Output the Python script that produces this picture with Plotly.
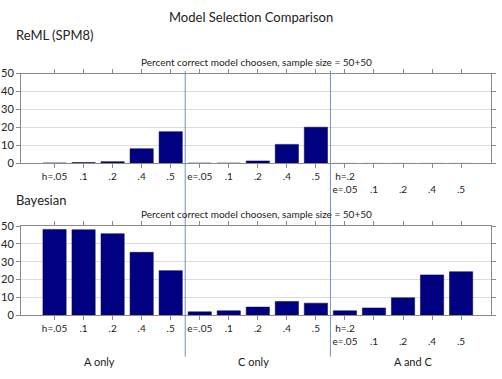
import plotly.graph_objects as go

W, H = 502, 379

tick_labels = ["h=.05", ".1", ".2", ".4", ".5",
               "e=.05", ".1", ".2", ".4", ".5",
               "h=.2<br>e=.05", "<br>.1", "<br>.2", "<br>.4", "<br>.5"]
positions = list(range(15))
reml_values = [0.3, 0.5, 1.0, 8.2, 17.7,
               0.2, 0.2, 1.4, 10.6, 20.2,
               0, 0, 0, 0, 0]
bayes_values = [48.2, 48.0, 45.8, 35.3, 25.0,
                1.8, 2.4, 4.5, 7.6, 6.7,
                2.4, 4.0, 9.7, 22.6, 24.4]
group_names = ["A only", "C only", "A and C"]
group_centres = [1.55, 6.85, 12.35]
separators = [4.5, 9.5]

FONT = "Lato"
BAR = "#000080"
AX = "#8a8a8a"

def py(px):
    return 1 - px / H

fig = go.Figure()
fig.add_trace(go.Bar(x=positions, y=reml_values, marker=dict(color=BAR, line=dict(color="#000050", width=0.5)),
                     width=0.8, xaxis="x", yaxis="y", showlegend=False))
fig.add_trace(go.Bar(x=positions, y=bayes_values, marker=dict(color=BAR, line=dict(color="#000050", width=0.5)),
                     width=0.8, xaxis="x2", yaxis="y2", showlegend=False))

xdom = [21 / W, 491 / W]
xr = [-1.155, 15.03]
common_x = dict(range=xr, domain=xdom, tickmode="array", tickvals=positions, ticktext=tick_labels,
                showline=True, linecolor=AX, linewidth=1, mirror="ticks", ticks="outside",
                ticklen=4, tickcolor=AX, showgrid=False, zeroline=False,
                tickfont=dict(family=FONT, size=10, color="#222"))
common_y = dict(range=[0, 50], dtick=10, showline=True, linecolor=AX, linewidth=1, mirror="ticks",
                ticks="outside", ticklen=4, tickcolor=AX, showgrid=True, gridcolor="#dcdcdc",
                gridwidth=1, zeroline=False, tickfont=dict(family=FONT, size=11, color="#222"))

fig.update_layout(
    width=W, height=H, margin=dict(l=0, r=0, t=0, b=0),
    paper_bgcolor="white", plot_bgcolor="white",
    xaxis=dict(anchor="y", **common_x),
    yaxis=dict(anchor="x", domain=[py(162), py(69)], **common_y),
    xaxis2=dict(anchor="y2", **common_x),
    yaxis2=dict(anchor="x2", domain=[py(319), py(227)], **common_y),
    bargap=0.2,
    font=dict(family=FONT, color="#222"),
)

for s in separators:
    fig.add_shape(type="line", xref="x", yref="paper", x0=s, x1=s, y0=py(362), y1=py(66),
                  line=dict(color="#6f8fc4", width=1))

ann = []
ann.append(dict(text="Model Selection Comparison", x=0.5, y=py(10), xref="paper", yref="paper",
                showarrow=False, font=dict(size=13), xanchor="center", yanchor="middle"))
ann.append(dict(text="ReML (SPM8)", x=14 / W, y=py(29), xref="paper", yref="paper",
                showarrow=False, font=dict(size=13), xanchor="left", yanchor="middle"))
ann.append(dict(text="Bayesian", x=14 / W, y=py(200), xref="paper", yref="paper",
                showarrow=False, font=dict(size=13), xanchor="left", yanchor="middle"))
sub = "Percent correct model choosen, sample size = 50+50"
for yy in (57, 214):
    ann.append(dict(text=sub, x=256 / W, y=py(yy), xref="paper", yref="paper",
                    showarrow=False, font=dict(size=10), xanchor="center", yanchor="middle"))
for name, c in zip(group_names, group_centres):
    ann.append(dict(text=name, x=c, y=py(367), xref="x2", yref="paper", showarrow=False,
                    font=dict(size=11), xanchor="center", yanchor="middle"))
fig.update_layout(annotations=ann)

fig.write_html("out.html", config={"displayModeBar": False},
               post_script="document.body.style.margin='0';document.body.style.overflow='hidden';")
